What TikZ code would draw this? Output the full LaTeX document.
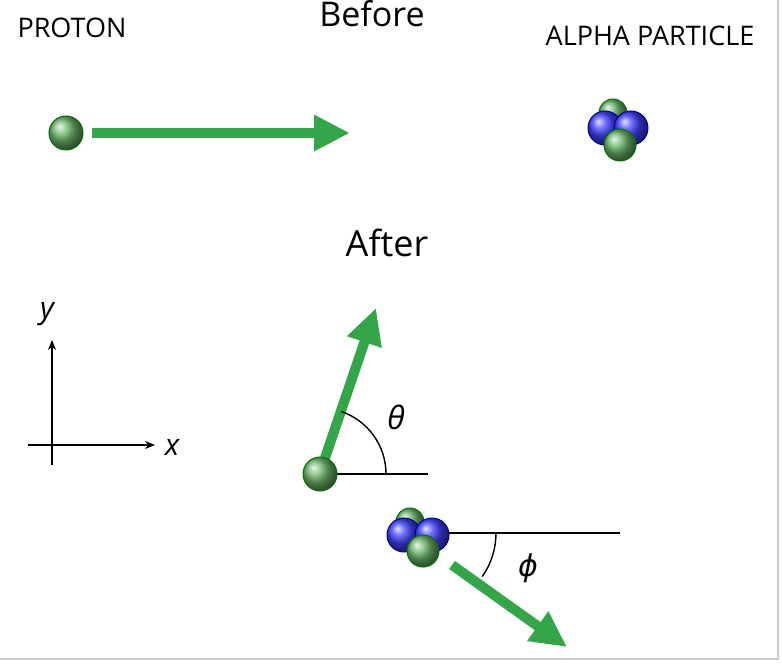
\documentclass[tikz,border=0pt]{standalone}
\usepackage{fontspec}
\setmainfont{Open Sans}
\newfontfamily\djfont{DejaVu Sans}
\usetikzlibrary{arrows.meta}
\definecolor{arrg}{RGB}{52,165,72}
\definecolor{ballg}{RGB}{110,185,110}
\begin{document}
\begin{tikzpicture}[x=1pt,y=-1pt,
  gball/.style={circle,minimum size=#1,inner sep=0pt,ball color=ballg,draw=green!45!black,line width=1pt},
  bball/.style={circle,minimum size=#1,inner sep=0pt,ball color=blue!75!white,draw=blue!60!black,line width=1pt},
  garrow/.style={draw=arrg,line width=10pt,-{Triangle[length=36pt,width=34pt]}},
  lbl/.style={font=\fontsize{27}{30}\selectfont},
  ax/.style={line width=1.4pt,-{Stealth[length=10pt,width=8pt]}}]
\useasboundingbox (0,0) rectangle (782,668);
\fill[white] (0,0) rectangle (782,668);
\draw[gray!40,line width=2pt] (0,659) -- (778,659) -- (778,0);
\node[lbl] (tp) at (72,28) {PROTON};
\node[font=\fontsize{34}{38}\selectfont] (tb) at (372,14) {Before};
\node[lbl] (ta) at (650,36) {ALPHA PARTICLE};
\node[gball=34pt] (p1) at (66,133) {};
\coordinate (p1e) at (350,133);
\draw[garrow] (92,133) -- (p1e);
\node[gball=28pt] (a1t) at (613,113) {};
\node[bball=34pt] (a1l) at (605,128) {};
\node[bball=34pt] (a1r) at (631,128) {};
\node[gball=32pt] (a1f) at (620,145) {};
\node[font=\fontsize{36}{40}\selectfont] (taf) at (387,243) {After};
\coordinate (yt) at (52,340);
\coordinate (xt) at (155,445);
\draw[ax] (52,465) -- (yt);
\draw[ax] (28,445) -- (xt);
\node[font=\fontsize{30}{34}\selectfont\itshape] (ly) at (47,314) {y};
\node[font=\fontsize{30}{34}\selectfont\itshape] (lx) at (172,447) {x};
\coordinate (p2c) at (320,474);
\draw[line width=1.4pt] (p2c) -- (428,474);
\draw[garrow] (325,458) -- (376,308);
\draw[line width=1.4pt] (386,474) arc[start angle=0,end angle=-71,radius=66];
\node[gball=34pt] (p2) at (p2c) {};
\node[font=\fontsize{32}{36}\selectfont\itshape] (th) at (396,417) {θ};
\coordinate (a2c) at (420,533);
\draw[line width=1.4pt] (a2c) -- (620,533);
\draw[garrow] (452,565) -- (567,647);
\draw[line width=1.4pt] (496,533) arc[start angle=0,end angle=35,radius=76];
\node[gball=28pt] (a2t) at (410,522) {};
\node[bball=34pt] (a2l) at (404,535) {};
\node[bball=34pt] (a2r) at (432,535) {};
\node[gball=32pt] (a2f) at (423,551) {};
\node[font=\fontsize{30}{34}\selectfont\djfont\itshape] (ph) at (528,568) {ϕ};
\end{tikzpicture}
\end{document}
